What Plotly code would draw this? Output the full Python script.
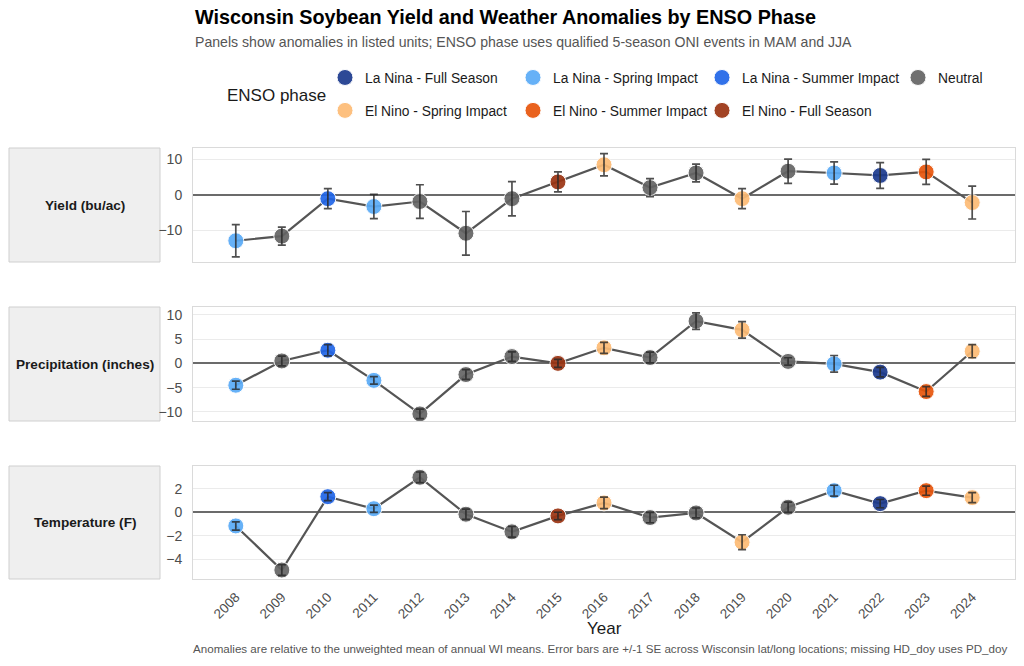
import plotly.graph_objects as go
from plotly.subplots import make_subplots

# ---------------- data ----------------
years = [2008, 2009, 2010, 2011, 2012, 2013, 2014, 2015, 2016,
         2017, 2018, 2019, 2020, 2021, 2022, 2023, 2024]
phase = ["La Nina - Spring Impact", "Neutral", "La Nina - Summer Impact",
         "La Nina - Spring Impact", "Neutral", "Neutral", "Neutral",
         "El Nino - Full Season", "El Nino - Spring Impact", "Neutral",
         "Neutral", "El Nino - Spring Impact", "Neutral",
         "La Nina - Spring Impact", "La Nina - Full Season",
         "El Nino - Summer Impact", "El Nino - Spring Impact"]

yield_anom = [-12.9, -11.6, -1.1, -3.3, -1.9, -10.8, -1.1, 3.6, 8.4,
              2.0, 6.1, -1.1, 6.6, 6.1, 5.4, 6.4, -2.2]
yield_se = [4.5, 2.5, 2.8, 3.4, 4.7, 6.1, 4.8, 2.8, 3.1,
            2.5, 2.5, 2.8, 3.4, 3.1, 3.6, 3.5, 4.6]
precip_anom = [-4.5, 0.5, 2.7, -3.5, -10.4, -2.3, 1.4, 0.0, 3.2,
               1.2, 8.7, 6.9, 0.4, -0.1, -1.8, -5.8, 2.5]
precip_se = [0.83, 1.0, 1.15, 0.76, 0.97, 1.0, 0.97, 0.83, 1.14,
             1.1, 1.69, 1.69, 0.76, 1.72, 0.97, 1.0, 1.34]
temp_anom = [-1.16, -4.9, 1.32, 0.3, 2.96, -0.17, -1.66, -0.31, 0.79,
             -0.45, -0.06, -2.54, 0.42, 1.83, 0.73, 1.83, 1.24]
temp_se = [0.35, 0.45, 0.34, 0.31, 0.45, 0.44, 0.45, 0.31, 0.49,
           0.44, 0.42, 0.63, 0.44, 0.46, 0.35, 0.39, 0.42]

panel_labels = ["Yield (bu/ac)", "Precipitation (inches)", "Temperature (F)"]
panel_ticks = [[-10, 0, 10], [-10, -5, 0, 5, 10], [-4, -2, 0, 2]]
panel_ranges = [[-18.85, 13.1], [-11.86, 11.6], [-5.66, 3.92]]

phase_order = ["La Nina - Full Season", "El Nino - Spring Impact",
               "La Nina - Spring Impact", "El Nino - Summer Impact",
               "La Nina - Summer Impact", "El Nino - Full Season",
               "Neutral"]
phase_colors = {
    "La Nina - Full Season": "#1c3a8e",
    "La Nina - Spring Impact": "#5aabf7",
    "La Nina - Summer Impact": "#2065e8",
    "Neutral": "#646464",
    "El Nino - Spring Impact": "#fdbb75",
    "El Nino - Summer Impact": "#e8550c",
    "El Nino - Full Season": "#9b3412",
}
phase_legend = {
    "La Nina - Full Season": "legend",
    "El Nino - Spring Impact": "legend",
    "La Nina - Spring Impact": "legend2",
    "El Nino - Summer Impact": "legend2",
    "La Nina - Summer Impact": "legend3",
    "El Nino - Full Season": "legend3",
    "Neutral": "legend4",
}

FONT = "Liberation Sans, Arial, sans-serif"

# ---------------- geometry (px) ----------------
W, H = 1024, 666
ML, MR, MT, MB = 193, 9, 148, 87
PW, PH = W - ML - MR, H - MT - MB


def py(ypx):
    return (H - MB - ypx) / PH


def px(xpx):
    return (xpx - ML) / PW


panel_px = [(148, 262), (307, 421), (466, 579)]

fig = make_subplots(rows=3, cols=1, shared_xaxes=True)

series = [(yield_anom, yield_se), (precip_anom, precip_se), (temp_anom, temp_se)]

for r, (vals, se) in enumerate(series, start=1):
    fig.add_trace(go.Scatter(x=years, y=vals, mode="lines",
                             line=dict(color="#555555", width=2.2),
                             showlegend=False, hoverinfo="skip"), row=r, col=1)
    for ph in phase_order:
        xs = [y for y, p in zip(years, phase) if p == ph]
        ys = [v for v, p in zip(vals, phase) if p == ph]
        fig.add_trace(go.Scatter(
            x=xs, y=ys, mode="markers", name=ph,
            marker=dict(color=phase_colors[ph], size=16, opacity=0.92,
                        line=dict(color="white", width=1)),
            legend=phase_legend[ph], legendgroup=ph,
            showlegend=(r == 1)), row=r, col=1)
    fig.add_trace(go.Scatter(
        x=years, y=vals, mode="markers",
        marker=dict(size=2, opacity=0),
        error_y=dict(type="data", array=se, visible=True,
                     color="rgba(40,40,40,0.82)", thickness=1.7, width=4),
        showlegend=False, hoverinfo="skip"), row=r, col=1)

shapes = []
annotations = []
for i, (top, bot) in enumerate(panel_px):
    yax = "yaxis" if i == 0 else f"yaxis{i + 1}"
    xax = "xaxis" if i == 0 else f"xaxis{i + 1}"
    fig.layout[yax].update(
        domain=[py(bot), py(top)], range=panel_ranges[i],
        tickvals=panel_ticks[i], showgrid=True, gridcolor="#ebebeb",
        gridwidth=1, zeroline=True, zerolinecolor="#6b6b6b",
        zerolinewidth=1.8, showline=True, mirror=True, linecolor="#dadada",
        linewidth=1, ticks="outside", ticklen=7,
        tickcolor="rgba(0,0,0,0)",
        tickfont=dict(family=FONT, size=14, color="#4d4d4d"))
    fig.layout[xax].update(
        range=[2007.07, 2024.93], tickvals=years, showgrid=False,
        zeroline=False, showline=True, mirror=True, linecolor="#dadada",
        linewidth=1, showticklabels=(i == 2), tickangle=-45,
        ticks="outside", ticklen=4, tickcolor="rgba(0,0,0,0)",
        tickfont=dict(family=FONT, size=13.5, color="#4d4d4d"))
    yref = "y domain" if i == 0 else f"y{i + 1} domain"
    shapes.append(dict(type="rect", xref="paper", yref=yref,
                       x0=px(9), x1=px(160), y0=0, y1=1,
                       fillcolor="#efefef", line=dict(color="#cfcfcf", width=1),
                       layer="below"))
    annotations.append(dict(xref="paper", yref=yref, x=px(84.5), y=0.5,
                            text=f"<b>{panel_labels[i]}</b>", showarrow=False,
                            xanchor="center", yanchor="middle",
                            font=dict(family=FONT, size=13.6, color="#1a1a1a")))

annotations += [
    dict(xref="paper", yref="paper", x=0, y=py(17), xanchor="left",
         yanchor="middle", showarrow=False,
         text="<b>Wisconsin Soybean Yield and Weather Anomalies by ENSO Phase</b>",
         font=dict(family=FONT, size=19.8, color="#000000")),
    dict(xref="paper", yref="paper", x=0, y=py(42), xanchor="left",
         yanchor="middle", showarrow=False,
         text="Panels show anomalies in listed units; ENSO phase uses qualified 5-season ONI events in MAM and JJA",
         font=dict(family=FONT, size=14.1, color="#555555")),
    dict(xref="paper", yref="paper", x=px(225), y=py(95), xanchor="left",
         yanchor="middle", showarrow=False, text="ENSO phase",
         font=dict(family=FONT, size=17, color="#1a1a1a")),
    dict(xref="paper", yref="paper", x=0.5, y=py(628), xanchor="center",
         yanchor="middle", showarrow=False, text="Year",
         font=dict(family=FONT, size=17, color="#1a1a1a")),
    dict(xref="paper", yref="paper", x=px(191), y=py(648), xanchor="left",
         yanchor="middle", showarrow=False,
         text="Anomalies are relative to the unweighted mean of annual WI means. Error bars are +/-1 SE across Wisconsin lat/long locations; missing HD_doy uses PD_doy",
         font=dict(family=FONT, size=11.6, color="#555555")),
]

legend_common = dict(orientation="v", yref="paper", xref="paper",
                     yanchor="top", xanchor="left", y=py(62),
                     traceorder="grouped", tracegroupgap=12,
                     bgcolor="rgba(0,0,0,0)", borderwidth=0,
                     font=dict(family=FONT, size=13.8, color="#1a1a1a"))

fig.update_layout(
    width=W, height=H,
    margin=dict(l=ML, r=MR, t=MT, b=MB, autoexpand=False),
    plot_bgcolor="white", paper_bgcolor="white",
    showlegend=True,
    legend=dict(x=px(345 - 20), **legend_common),
    legend2=dict(x=px(533 - 20), **legend_common),
    legend3=dict(x=px(722 - 20), **legend_common),
    legend4=dict(x=px(918 - 20), **legend_common),
    shapes=shapes, annotations=annotations,
    font=dict(family=FONT),
)

fig.write_html("out.html")
